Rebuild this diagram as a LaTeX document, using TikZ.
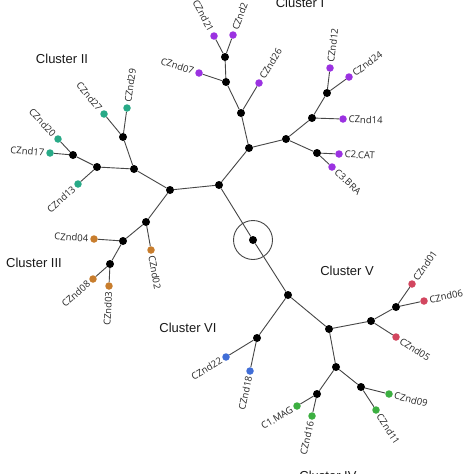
\documentclass[tikz,border=0pt]{standalone}
\usepackage{fontspec}
\setmainfont{Open Sans}
\newfontfamily\clusterfont{Liberation Sans}
\usetikzlibrary{calc}
\definecolor{cI}{RGB}{155,50,225}
\definecolor{cII}{RGB}{40,170,135}
\definecolor{cIII}{RGB}{200,125,45}
\definecolor{cV}{RGB}{210,70,95}
\definecolor{cVI}{RGB}{65,110,215}
\definecolor{cIV}{RGB}{60,175,65}
\definecolor{edgegray}{RGB}{70,70,70}
\newcommand\lfW[5]{%
  \node[leafdot=#5] (#1) at (#2) {};
  \node[lbl,anchor=west,rotate=#3] (#1t) at ($(#1)+(#3:5.5pt)$) {#4};}
\newcommand\lfE[5]{%
  \node[leafdot=#5] (#1) at (#2) {};
  \node[lbl,anchor=east,rotate=#3] (#1t) at ($(#1)+(#3+180:5.5pt)$) {#4};}
\begin{document}
\begin{tikzpicture}[x=1pt,y=-1pt,
  edge/.style={draw=edgegray, line width=0.9pt},
  inner/.style={circle, fill=black, inner sep=0pt, minimum size=8pt},
  leafdot/.style={circle, fill=#1, inner sep=0pt, minimum size=7.5pt},
  lbl/.style={inner sep=0pt, font=\fontsize{9.5}{11}\selectfont, text=black!85},
  clus/.style={font=\clusterfont\fontsize{13}{15}\selectfont, inner sep=0pt, anchor=base, text=black!90}]
\useasboundingbox (0,0) rectangle (474,474);
\fill[white] (0,0) rectangle (474,474);
\clip (0,0) rectangle (474,474);
% internal nodes
\node[inner] (C) at (253,240) {};
\node[inner] (A) at (219,185) {};
\node[inner] (B) at (288,295) {};
\node[inner] (N1) at (249,148) {};
\node[inner] (N2) at (170,190) {};
\node[inner] (N3) at (241,113) {};
\node[inner] (N4) at (286,139) {};
\node[inner] (N5) at (226,82) {};
\node[inner] (N6) at (225,57) {};
\node[inner] (N7) at (312,118) {};
\node[inner] (N8) at (317,153) {};
\node[inner] (N9) at (327,93) {};
\node[inner] (N10) at (134,169) {};
\node[inner] (N11) at (146,222) {};
\node[inner] (N12) at (123,137) {};
\node[inner] (N13) at (97,167) {};
\node[inner] (N14) at (73,155) {};
\node[inner] (N15) at (123,241) {};
\node[inner] (N16) at (110,264) {};
\node[inner] (N17) at (257,338) {};
\node[inner] (N18) at (329,329) {};
\node[inner] (N19) at (371,321) {};
\node[inner] (N20) at (336,367) {};
\node[inner] (N21) at (396,307) {};
\node[inner] (N22) at (317,394) {};
\node[inner] (N23) at (361,387) {};
\node[circle, draw=edgegray, line width=0.9pt, minimum size=39pt, inner sep=0pt] (ring) at (C) {};
% leaves
\lfE{z21}{214,36}{-62}{CZnd21}{cI}
\lfW{z2}{233,35}{70}{CZnd2}{cI}
\lfE{z07}{199,73}{-18}{CZnd07}{cI}
\lfW{z26}{259,83}{59}{CZnd26}{cI}
\lfW{z12}{330,68}{83}{CZnd12}{cI}
\lfW{z24}{349,77}{36}{CZnd24}{cI}
\lfW{z14}{343,119}{-2}{CZnd14}{cI}
\lfW{cat}{339,154}{-3}{C2.CAT}{cI}
\lfW{bra}{332,167}{-43}{C3.BRA}{cI}
\lfW{z29}{127,108}{82}{CZnd29}{cII}
\lfE{z27}{104,114}{-50}{CZnd27}{cII}
\lfE{z20}{58,139}{-47}{CZnd20}{cII}
\lfE{z17}{50,153}{-5}{CZnd17}{cII}
\lfE{z13}{78,184}{42}{CZnd13}{cII}
\lfE{z04}{94,239}{-4}{CZnd04}{cIII}
\lfW{z02}{151,250}{-80}{CZnd02}{cIII}
\lfE{z08}{93,279}{41}{CZnd08}{cIII}
\lfE{z03}{109,286}{87}{CZnd03}{cIII}
\lfE{z22}{226,357}{31}{CZnd22}{cVI}
\lfE{z18}{250,371}{78}{CZnd18}{cVI}
\lfW{z01}{412,284}{55}{CZnd01}{cV}
\lfW{z06}{424,301}{12}{CZnd06}{cV}
\lfW{z05}{396,337}{-33}{CZnd05}{cV}
\lfE{mag}{297,406}{31}{C1.MAG}{cIV}
\lfE{z16}{312,416}{77}{CZnd16}{cIV}
\lfW{z09}{389,394}{-14}{CZnd09}{cIV}
\lfW{z11}{376,410}{-57}{CZnd11}{cIV}
% edges
\draw[edge] (C) -- (A) (C) -- (B)
  (A) -- (N1) (A) -- (N2)
  (N1) -- (N3) (N1) -- (N4)
  (N3) -- (N5) (N3) -- (z26)
  (N5) -- (N6) (N5) -- (z07)
  (N6) -- (z21) (N6) -- (z2)
  (N4) -- (N7) (N4) -- (N8)
  (N7) -- (N9) (N7) -- (z14)
  (N9) -- (z12) (N9) -- (z24)
  (N8) -- (cat) (N8) -- (bra)
  (N2) -- (N10) (N2) -- (N11)
  (N10) -- (N12) (N10) -- (N13)
  (N12) -- (z29) (N12) -- (z27)
  (N13) -- (N14) (N13) -- (z13)
  (N14) -- (z20) (N14) -- (z17)
  (N11) -- (N15) (N11) -- (z02)
  (N15) -- (z04) (N15) -- (N16)
  (N16) -- (z08) (N16) -- (z03)
  (B) -- (N17) (B) -- (N18)
  (N17) -- (z22) (N17) -- (z18)
  (N18) -- (N19) (N18) -- (N20)
  (N19) -- (N21) (N19) -- (z05)
  (N21) -- (z01) (N21) -- (z06)
  (N20) -- (N22) (N20) -- (N23)
  (N22) -- (mag) (N22) -- (z16)
  (N23) -- (z09) (N23) -- (z11);
% cluster labels
\node[clus] (k1) at (300,7) {Cluster I};
\node[clus] (k2) at (62,63) {Cluster II};
\node[clus] (k3) at (34,267) {Cluster III};
\node[clus] (k5) at (347,275) {Cluster V};
\node[clus] (k6) at (188,332) {Cluster VI};
\node[clus] (k4) at (328,480) {Cluster IV};
\end{tikzpicture}
\end{document}
